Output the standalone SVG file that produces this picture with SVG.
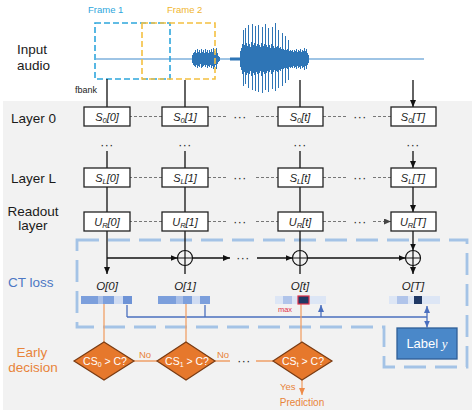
<svg xmlns="http://www.w3.org/2000/svg" width="474" height="414" viewBox="0 0 474 414">
<defs>
<style>
text{font-family:"Liberation Sans",Arial,sans-serif}
.lbl{font-size:13.5px;fill:#1a1a1a}
.box{fill:#fff;stroke:#222;stroke-width:1.3}
.bt{font-size:11px;font-style:italic;fill:#222;text-anchor:middle}
.sub{font-size:7.5px}
.ar{stroke:#111;stroke-width:1.3;fill:none;marker-end:url(#ak)}
.ln{stroke:#111;stroke-width:1.3;fill:none}
.da{stroke:#777;stroke-width:1;stroke-dasharray:3 2;fill:none}
.dam{stroke:#777;stroke-width:1;stroke-dasharray:3 2;fill:none;marker-end:url(#ag)}
.dots{font-size:12px;fill:#222;text-anchor:middle;letter-spacing:0.5px}
.sum{fill:none;stroke:#111;stroke-width:1.2}
.bl{stroke:#4a6fbe;stroke-width:1.3;fill:none}
.blm{stroke:#4a6fbe;stroke-width:1.3;fill:none;marker-end:url(#ab)}
.or{stroke:#f0a068;stroke-width:1.3;fill:none}
.orm{stroke:#f0a068;stroke-width:1.3;fill:none;marker-end:url(#ao)}
.dia{fill:#e6782c;stroke:#7a3b12;stroke-width:1.2}
.dt{font-size:10.5px;fill:#fff;text-anchor:middle}
.ot{font-size:9.5px;fill:#e8843a}
.ol{font-size:11.5px;font-style:italic;fill:#222;text-anchor:middle}
.c1{fill:#7c9fdc}.c2{fill:#a8bfe8}.c3{fill:#d0dcf2}.c4{fill:#6e93d6}.c5{fill:#dde6f5}.c6{fill:#b0c4ea}.c7{fill:#1f3864}
</style>
<marker id="ak" markerUnits="userSpaceOnUse" markerWidth="7" markerHeight="6" refX="7" refY="3" orient="auto"><path d="M0,0L7,3L0,6z" fill="#111"/></marker>
<marker id="ag" markerUnits="userSpaceOnUse" markerWidth="7" markerHeight="6" refX="7" refY="3" orient="auto"><path d="M0,0L7,3L0,6z" fill="#444"/></marker>
<marker id="ab" markerUnits="userSpaceOnUse" markerWidth="7" markerHeight="6" refX="7" refY="3" orient="auto-start-reverse"><path d="M0,0L7,3L0,6z" fill="#4a6fbe"/></marker>
<marker id="ao" markerUnits="userSpaceOnUse" markerWidth="7" markerHeight="6" refX="7" refY="3" orient="auto"><path d="M0,0L7,3L0,6z" fill="#ee8a48"/></marker>
</defs>

<rect id="background" x="3" y="101" width="469" height="309" fill="#f2f2f2"/>

<g id="labels">
<text class="lbl" x="17" y="54" font-size="14">Input</text>
<text class="lbl" x="17" y="70">audio</text>
<text class="lbl" x="11" y="123">Layer 0</text>
<text class="lbl" x="11" y="183">Layer L</text>
<text class="lbl" x="33" y="216" text-anchor="middle">Readout</text>
<text class="lbl" x="33" y="230" text-anchor="middle">layer</text>
<text x="8" y="287" font-size="13.5" fill="#4d78c4">CT loss</text>
<text x="32" y="357" font-size="13.5" fill="#e8843a" text-anchor="middle">Early</text>
<text x="33" y="372" font-size="13.5" fill="#e8843a" text-anchor="middle">decision</text>
</g>

<g id="audio">
<line x1="96" y1="59" x2="424" y2="59" stroke="#7eb0dd" stroke-width="1.5"/>
<rect x="230" y="57.5" width="10" height="3" fill="#2e75b6"/>
<path transform="translate(0.5,0)" stroke="#2e75b6" stroke-width="1" fill="none" d="M192,55V63M193,53V65M194,52V66M195,50V67M196,53V65M197,49V68M198,52V66M199,50V67M200,53V64M201,49V68M202,52V67M203,50V66M204,53V65M205,49V67M206,52V65M207,50V68M208,53V66M209,50V67M210,52V65M211,49V68M212,52V66M213,48V69M214,51V67M215,53V65M216,48V69M217,53V64M218,56V62M219,57V61M240,51V67M241,48V70M242,44V74M243,30V86M244,45V72M245,28V84M246,43V75M247,46V73M248,25V88M249,44V74M250,47V71M251,42V76M252,24V90M253,45V73M254,43V75M255,26V91M256,46V72M257,44V74M258,25V92M259,45V73M260,47V71M261,43V76M262,27V93M263,46V72M264,44V74M265,24V90M266,45V73M267,47V71M268,28V92M269,45V72M270,48V70M271,44V74M272,27V89M273,46V72M274,48V70M275,23V91M276,47V71M277,46V72M278,30V88M279,48V70M280,47V71M281,49V69M282,33V86M283,49V69M284,50V68M285,36V83M286,50V68M287,49V69M288,40V80M289,51V67M290,50V68M291,51V67M292,50V68M293,52V66M294,50V68M295,51V67M296,49V69M297,52V66M298,50V68M299,51V67M300,49V69M301,52V66M302,50V68M303,51V67M304,48V70M305,51V66M306,49V69M307,53V65M308,55V63"/>
</g>

<g id="frame1">
<rect x="95" y="23" width="75" height="56" fill="none" stroke="#2ea6dc" stroke-width="1.6" stroke-dasharray="6 3"/>
<text x="88" y="13" font-size="9.5" fill="#2ea6dc">Frame 1</text>
</g>
<g id="frame2">
<rect x="142" y="23" width="73" height="56" fill="none" stroke="#f4c040" stroke-width="1.6" stroke-dasharray="6 3"/>
<text x="167" y="13" font-size="9.5" fill="#f0b530">Frame 2</text>
</g>
<text x="86" y="93" font-size="9" fill="#222" text-anchor="middle">fbank</text>

<g id="ct-loss-region">
<path d="M77,240H467V367H384V327H77Z" fill="none" stroke="#a4c3e6" stroke-width="2.8" stroke-dasharray="22 9"/>
</g>

<g id="connectors">
<path class="ar" d="M107,79V107M185,80V107M300,80V107M413,80V107"/>
<path class="ar" d="M107,151V168M185,151V168M300,151V168M413,151V168"/>
<path class="ar" d="M107,187V212M185,187V212M300,187V212M413,187V212"/>
<path class="dam" d="M129,116.5H162M256,116.5H278M373,116.5H391M129,177.5H162M256,177.5H278M373,177.5H391M129,221.5H162M256,221.5H278M373,221.5H391"/>
<path class="da" d="M208,116.5H228M323,116.5H347M208,177.5H228M323,177.5H347M208,221.5H228M323,221.5H347"/>
<path class="ar" d="M107,231V274"/>
<path class="ar" d="M107,258H177.5"/>
<path class="ar" d="M185,231V250.5M300,231V250.5M413,231V250.5"/>
<path class="ar" d="M185,265.5V274M300,265.5V274M413,265.5V274"/>
<path class="ar" d="M192.5,258H230"/>
<path class="ar" d="M257,258H292.5"/>
<path class="ar" d="M307.5,258H405.5"/>
<path class="bl" d="M127,317H427"/>
<path class="blm" d="M127,317V305M205,317V305M321,317V305"/>
<path class="blm" d="M427,306V327.5" marker-start="url(#ab)"/>
<path class="or" d="M104,296V342M186,296V342M301,304V342M215,361H230"/>
<path class="orm" d="M134,361H157M256,361H273M302,380V395"/>
</g>

<g id="dots">
<text class="dots" x="107" y="149">···</text>
<text class="dots" x="185" y="149">···</text>
<text class="dots" x="300" y="149">···</text>
<text class="dots" x="413" y="149">···</text>
<text class="dots" x="240" y="120.5">···</text>
<text class="dots" x="360" y="120.5">···</text>
<text class="dots" x="240" y="181.5">···</text>
<text class="dots" x="360" y="181.5">···</text>
<text class="dots" x="240" y="225.5">···</text>
<text class="dots" x="360" y="225.5">···</text>
<text class="dots" x="243" y="262">···</text>
<text class="dots" x="244" y="365">···</text>
</g>

<g id="layer0">
<g id="s0-0"><rect class="box" x="84" y="107" width="46" height="19"/><text class="bt" x="107" y="121">S<tspan class="sub" dy="2">0</tspan><tspan dy="-2">[0]</tspan></text></g>
<g id="s0-1"><rect class="box" x="162" y="107" width="46" height="19"/><text class="bt" x="185" y="121">S<tspan class="sub" dy="2">0</tspan><tspan dy="-2">[1]</tspan></text></g>
<g id="s0-t"><rect class="box" x="278" y="107" width="45" height="19"/><text class="bt" x="300" y="121">S<tspan class="sub" dy="2">0</tspan><tspan dy="-2">[t]</tspan></text></g>
<g id="s0-T"><rect class="box" x="391" y="107" width="45" height="19"/><text class="bt" x="413" y="121">S<tspan class="sub" dy="2">0</tspan><tspan dy="-2">[T]</tspan></text></g>
</g>
<g id="layerL">
<g id="sL-0"><rect class="box" x="84" y="168" width="46" height="19"/><text class="bt" x="107" y="182">S<tspan class="sub" dy="2">L</tspan><tspan dy="-2">[0]</tspan></text></g>
<g id="sL-1"><rect class="box" x="162" y="168" width="46" height="19"/><text class="bt" x="185" y="182">S<tspan class="sub" dy="2">L</tspan><tspan dy="-2">[1]</tspan></text></g>
<g id="sL-t"><rect class="box" x="278" y="168" width="45" height="19"/><text class="bt" x="300" y="182">S<tspan class="sub" dy="2">L</tspan><tspan dy="-2">[t]</tspan></text></g>
<g id="sL-T"><rect class="box" x="391" y="168" width="45" height="19"/><text class="bt" x="413" y="182">S<tspan class="sub" dy="2">L</tspan><tspan dy="-2">[T]</tspan></text></g>
</g>
<g id="readout">
<g id="uR-0"><rect class="box" x="84" y="212" width="46" height="19"/><text class="bt" x="107" y="226">U<tspan class="sub" dy="2">R</tspan><tspan dy="-2">[0]</tspan></text></g>
<g id="uR-1"><rect class="box" x="162" y="212" width="46" height="19"/><text class="bt" x="185" y="226">U<tspan class="sub" dy="2">R</tspan><tspan dy="-2">[1]</tspan></text></g>
<g id="uR-t"><rect class="box" x="278" y="212" width="45" height="19"/><text class="bt" x="300" y="226">U<tspan class="sub" dy="2">R</tspan><tspan dy="-2">[t]</tspan></text></g>
<g id="uR-T"><rect class="box" x="391" y="212" width="45" height="19"/><text class="bt" x="413" y="226">U<tspan class="sub" dy="2">R</tspan><tspan dy="-2">[T]</tspan></text></g>
</g>

<g id="sum-1"><circle class="sum" cx="185" cy="258" r="7.5"/><path class="sum" d="M177.5,258H192.5M185,250.5V265.5"/></g>
<g id="sum-t"><circle class="sum" cx="300" cy="258" r="7.5"/><path class="sum" d="M292.5,258H307.5M300,250.5V265.5"/></g>
<g id="sum-T"><circle class="sum" cx="413" cy="258" r="7.5"/><path class="sum" d="M405.5,258H420.5M413,250.5V265.5"/></g>

<g id="out-0">
<text class="ol" x="107" y="290">O[0]</text>
<rect class="c1" x="81" y="296" width="17" height="8"/><rect class="c2" x="98" y="296" width="5" height="8"/><rect class="c1" x="103" y="296" width="11" height="8"/><rect class="c3" x="114" y="296" width="9" height="8"/><rect class="c4" x="123" y="296" width="9" height="8"/>
</g>
<g id="out-1">
<text class="ol" x="185" y="290">O[1]</text>
<rect class="c1" x="158" y="296" width="18" height="8"/><rect class="c2" x="176" y="296" width="7" height="8"/><rect class="c1" x="183" y="296" width="9" height="8"/><rect class="c3" x="192" y="296" width="8" height="8"/><rect class="c1" x="200" y="296" width="10" height="8"/>
</g>
<g id="out-t">
<text class="ol" x="300" y="290">O[t]</text>
<rect class="c5" x="275" y="296" width="8" height="8"/><rect class="c6" x="283" y="296" width="9" height="8"/><rect class="c5" x="292" y="296" width="6" height="8"/><rect class="c5" x="309" y="296" width="17" height="8"/><rect class="c7" x="298" y="296" width="11" height="8" stroke="#e03048" stroke-width="1.2"/>
<text x="285" y="312" font-size="7.5" fill="#e03048" text-anchor="middle">max</text>
</g>
<g id="out-T">
<text class="ol" x="413" y="290">O[T]</text>
<rect class="c5" x="389" y="296" width="8" height="8"/><rect class="c6" x="397" y="296" width="11" height="8"/><rect class="c5" x="408" y="296" width="6" height="8"/><rect class="c7" x="414" y="296" width="8" height="8"/><rect class="c5" x="422" y="296" width="18" height="8"/>
</g>

<g id="label-y">
<rect x="397" y="328" width="60" height="31" fill="#4a88c9" stroke="#2f5f97" stroke-width="1.3"/>
<text x="427" y="348" font-size="13" fill="#fff" text-anchor="middle">Label <tspan font-style="italic" font-family="'Liberation Serif',serif">y</tspan></text>
</g>

<g id="decision-0"><polygon class="dia" points="104,342 134,361 104,380 74,361"/><text class="dt" x="105" y="365">CS<tspan font-size="7" dy="2">0</tspan><tspan dy="-2"> &gt; C?</tspan></text></g>
<g id="decision-1"><polygon class="dia" points="186,342 215,361 186,380 157,361"/><text class="dt" x="187" y="365">CS<tspan font-size="7" dy="2">1</tspan><tspan dy="-2"> &gt; C?</tspan></text></g>
<g id="decision-t"><polygon class="dia" points="302,342 332,361 302,380 273,361"/><text class="dt" x="303" y="365">CS<tspan font-size="7" dy="2">t</tspan><tspan dy="-2"> &gt; C?</tspan></text></g>

<g id="decision-labels">
<text class="ot" x="139" y="358">No</text>
<text class="ot" x="217" y="358">No</text>
<text class="ot" x="280" y="390">Yes</text>
<text x="302" y="406" font-size="10" fill="#e8843a" text-anchor="middle">Prediction</text>
</g>
</svg>
